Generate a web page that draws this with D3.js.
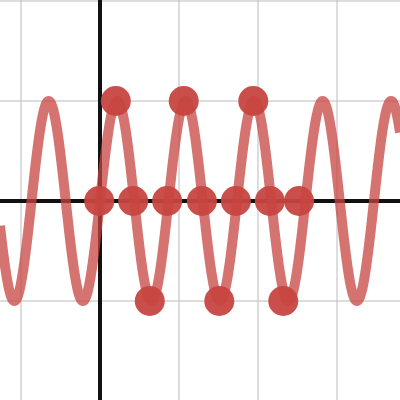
<!DOCTYPE html>
<html><head><meta charset="utf-8">
<script src="https://cdn.jsdelivr.net/npm/d3@7"></script>
<style>body{margin:0;background:#fff}</style>
</head><body><svg id="viz"></svg>
<script>
const W = 400, H = 400;

// grid ticks (graph units)
const xTicks = [-1, 0, 1, 2, 3, 4];
const yTicks = [-2, -1, 0, 1, 2];

// curve y = amp * sin(2*pi*(x - shift)/period)
const amp = 1;
const period = 0.867;
const shift = 0;

// plotted points
const pointX = [-0.01, 0.20, 0.42, 0.63, 0.85, 1.06, 1.29, 1.51, 1.72, 1.94, 2.15, 2.32, 2.52];
const pointY = [0, 1, 0, -1, 0, 1, 0, -1, 0, 1, 0, -1, 0];

const x = d3.scaleLinear().domain([-100 / 79, 300 / 79]).range([0, W]);
const y = d3.scaleLinear().domain([2.01, -1.99]).range([0, H]);

const svg = d3.select('#viz').attr('width', W).attr('height', H);

svg.append('g').selectAll('line').data(xTicks).enter().append('line')
  .attr('x1', d => x(d)).attr('x2', d => x(d)).attr('y1', 0).attr('y2', H)
  .attr('stroke', '#bbb').attr('stroke-width', 1);
svg.append('g').selectAll('line').data(yTicks).enter().append('line')
  .attr('y1', d => y(d)).attr('y2', d => y(d)).attr('x1', 0).attr('x2', W)
  .attr('stroke', '#bbb').attr('stroke-width', 1);

// axes
svg.append('line').attr('x1', x(0)).attr('x2', x(0)).attr('y1', 0).attr('y2', H)
  .attr('stroke', '#111').attr('stroke-width', 4);
svg.append('line').attr('y1', y(0)).attr('y2', y(0)).attr('x1', 0).attr('x2', W)
  .attr('stroke', '#111').attr('stroke-width', 4);

const [x0, x1] = x.domain();
const samples = d3.range(0, 801).map(i => {
  const xv = x0 + (x1 - x0) * i / 800;
  return [xv, amp * Math.sin(2 * Math.PI * (xv - shift) / period)];
});

svg.append('path')
  .datum(samples)
  .attr('fill', 'none')
  .attr('stroke', '#c74440')
  .attr('stroke-opacity', 0.75)
  .attr('stroke-width', 10)
  .attr('d', d3.line().x(d => x(d[0])).y(d => y(d[1])));

svg.append('g').selectAll('circle').data(pointX).enter().append('circle')
  .attr('cx', d => x(d))
  .attr('cy', (d, i) => y(pointY[i]))
  .attr('r', 15)
  .attr('fill', '#c74440')
  .attr('fill-opacity', 0.95);
</script></body></html>
